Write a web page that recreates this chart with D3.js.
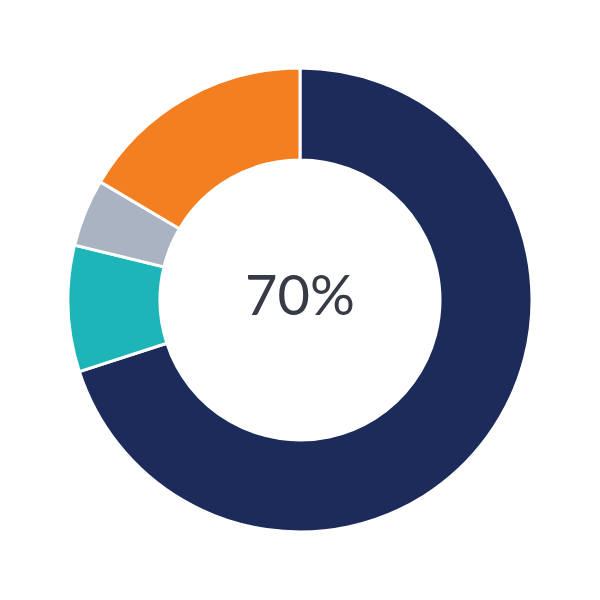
<!DOCTYPE html>
<html>
<head>
<meta charset="utf-8">
<script src="https://cdn.jsdelivr.net/npm/d3@7"></script>
<style>
  html, body { margin: 0; padding: 0; background: #fff; }
</style>
</head>
<body>
<svg id="chart" width="600" height="600"></svg>
<script>
const categories = ['A', 'B', 'C', 'D'];
const values = [70, 8.8, 4.7, 16.5];
const colors = ['#1c2b5a', '#1db5b8', '#a9b3c1', '#f47f20'];
const centerLabel = '70%';

const svg = d3.select('#chart');
const g = svg.append('g').attr('transform', 'translate(300,300)');

const pie = d3.pie().sort(null).value(d => d.v);
const arc = d3.arc().innerRadius(140).outerRadius(232);
const color = d3.scaleOrdinal().domain(categories).range(colors);

const data = categories.map((c, i) => ({ c, v: values[i] }));

g.selectAll('path')
  .data(pie(data))
  .join('path')
  .attr('d', arc)
  .attr('fill', d => color(d.data.c))
  .attr('stroke', '#fff')
  .attr('stroke-width', 3)
  .attr('stroke-linejoin', 'miter');

g.append('text')
  .attr('text-anchor', 'middle')
  .attr('y', 15)
  .attr('font-family', 'Lato, "Open Sans", sans-serif')
  .attr('font-weight', 400)
  .attr('font-size', 56)
  .attr('fill', '#363b46')
  .text(centerLabel);
</script>
</body>
</html>
